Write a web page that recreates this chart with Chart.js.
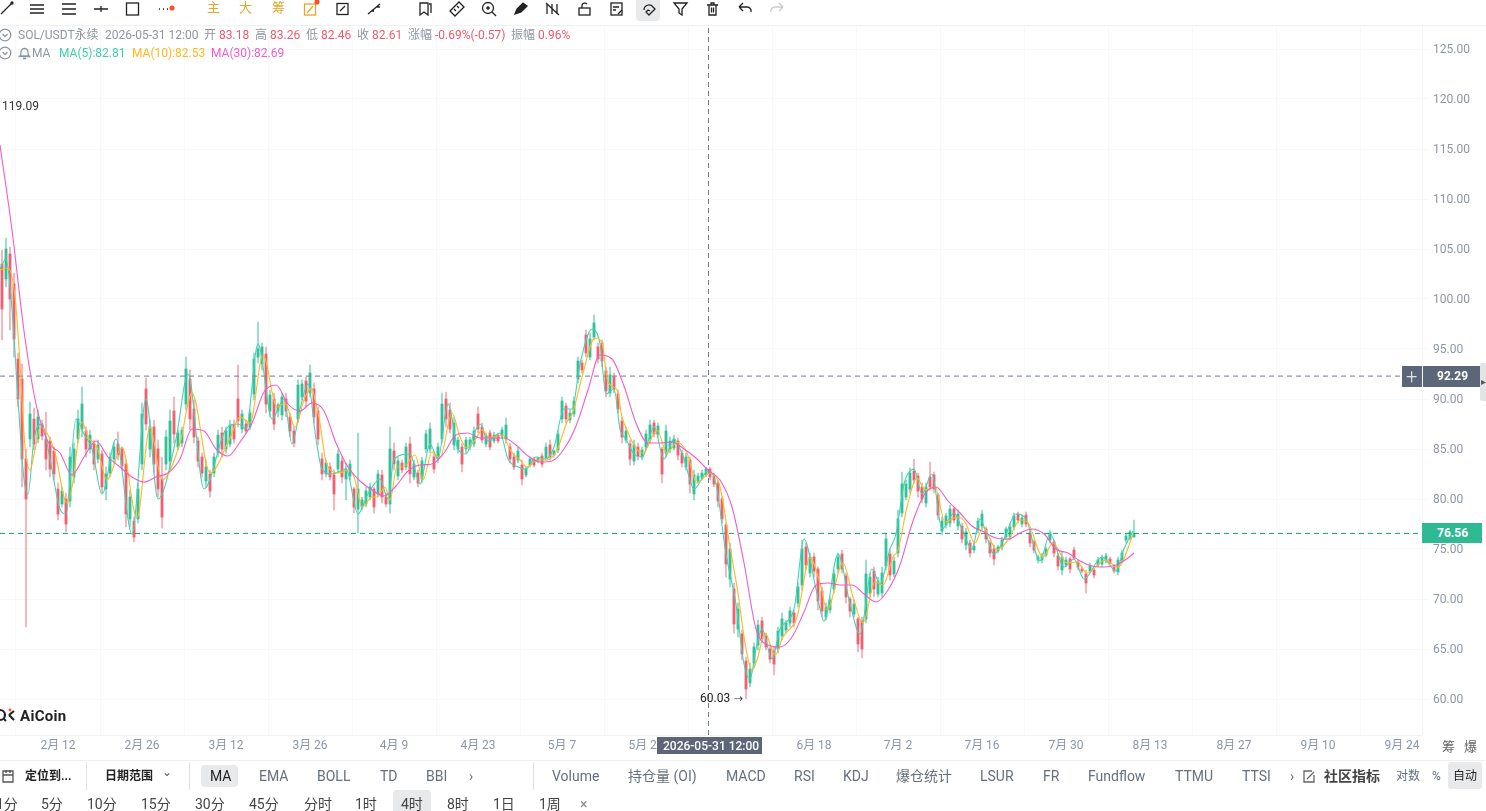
<!DOCTYPE html>
<html>
<head>
<meta charset="utf-8">
<title>SOL/USDT</title>
<script src="https://cdn.jsdelivr.net/npm/chart.js@4/dist/chart.umd.min.js"></script>
<style>
html,body{margin:0;padding:0;background:#fff;overflow:hidden;width:1486px;height:811px;font-family:Roboto,"Noto Sans CJK SC",sans-serif;}
#wrap{position:relative;width:1486px;height:811px;overflow:hidden;}
canvas{position:absolute;left:0;top:0;}
.t{position:absolute;white-space:nowrap;transform:translateY(-50%);font-size:12px;line-height:16px;}
.b{position:absolute;}
svg{position:absolute;overflow:visible;fill:none;stroke:#222;stroke-width:1.3;}
</style>
</head>
<body>
<div id="wrap"><canvas id="kline" width="1486" height="811"></canvas></div>
<script>
// every 4th 4h candle, candle number = 2 + 4 * i
var opens = [103.5,102,104.5,101.5,94,92,84,86,88,86,87.5,86,85.8,84.8,81,79.5,80,79.8,82.2,86,87,86.8,85,85.5,84,84.5,81,82.6,84,85.5,85,83.5,78,77.8,78,83.5,91,85,87.2,85,82,83.5,83.8,88.8,85.2,85.6,89.5,92,89,85.8,84.2,81.8,82.5,82.6,84.6,86.6,85,85.5,87.4,90,87,87.5,87.2,90.5,94.2,93.5,94.5,88.8,90,88.8,88.4,90,88.2,86.8,88,90.2,91.8,90.6,91,88.8,84,82.5,83.2,82.4,83,83.8,82,82.3,81,79,79.2,79.5,80.2,81,80.5,82.4,80.2,79.5,84.8,82.3,83.6,83.2,85.5,82.2,82.6,82,85,85,84.2,84,86,90,88.9,85.4,85,85.2,85,85.2,85.5,88.5,87.2,85.5,86.6,85.8,86.4,86.3,86,85.2,84.2,83.9,83.4,82.4,83.4,84,83.8,84.3,84.1,85.4,84.4,84.9,88,89.3,87.9,88.5,92,93.6,96.4,94.2,96.2,95.2,95.6,92.8,90.6,92.2,90.5,87.8,85.9,85.5,83.8,85.2,84.2,85.2,86,87.6,86.5,85,84.6,85,85.1,85.8,84.6,83.2,83.9,80.5,81.8,82.1,82.4,83,82.3,81.6,80,77.4,72,71,67,66.5,63.8,61.6,63.6,65.4,67.8,66.3,65,64.8,65,66.3,66.9,67.6,68.6,69.6,71.4,75.2,72.6,74.2,73,70.8,68.2,68.9,71,73,74.5,72.3,70,68.5,68,67.8,68,70.6,72.8,70.5,70.6,73.3,74.5,72.5,74.6,78.6,80.2,81,82.8,82.3,81.2,79.6,82.2,82.4,80.4,76.8,77.4,77.6,79,77.3,77.3,75.4,75.6,74.9,76.9,77.3,77,75.6,75,74.8,75.2,76.2,76.2,77.2,78.5,77.5,78.4,76.6,75.7,73.9,73.9,74.4,75.9,75.7,74.3,72.9,73.4,74,74.9,73.7,73,72.5,72.8,72.9,73.4,73.5,73.8,74,73.2,72.7,73.9,75.9,76.1,76.2];
var closes = [99,105,100,96,90,84,80,88.5,85.5,88.2,86.3,84,83,82.5,78.5,80.8,77.5,84.2,85,88,89.5,85,86.4,83.5,85.4,81.2,82.5,84.2,85.2,84.4,83.3,78.5,80.2,76.2,81,88.5,87.5,87.2,83.5,81,78.2,86.2,87.8,86.5,86.6,86.9,93,88,86.2,83.8,82.6,83.2,80.8,84.2,86.4,85,86.8,87.4,86,87.8,88.5,86.8,88.6,94,95,95.2,89.5,90.4,87.5,89.4,90.2,88.8,86.8,85.6,91.4,91.5,89.8,92.6,88.2,86,82.5,83.6,82.2,80.5,84.5,82.2,83,83.5,79.2,81,79.9,80.8,81.2,79.2,82.5,80.2,79.5,85,83.5,83.8,82.9,85.2,82.5,83.5,81.6,83.8,86.5,87,83,85.2,89.5,88,87,87.6,85.9,83.5,85.9,85.9,86.8,87,85.9,86.3,85.2,86.4,85.8,86.9,87.4,84,83.2,84.8,82,83,84,83.4,84.1,83.5,85.2,84.2,84.8,86.5,89.8,88,88.6,89.8,93.8,92.9,94.6,96,97.6,94,93.8,90.8,92.4,91,89,86.2,86.8,84,85.4,84.3,84.9,86.5,87.4,86.5,87.3,82.5,86.8,85.8,86,84.4,83.6,84.2,81.5,82.4,82.3,82.6,83,82.2,81.5,79.8,78,73.5,75,67.5,69,64.5,61,63,65.2,67.4,66,65.2,64,63.5,66.8,68,67.6,68.8,67.6,71.2,75,73.4,74.2,72.8,69.8,68.8,69.2,69.9,72.5,74.2,73,70.2,68.8,69.5,65.5,65,72.5,72.2,71,71.8,72.6,76,72.4,73.8,78,81.5,81.5,82.6,81.9,80.8,80,81.2,81.2,81,78.4,77.8,78.3,79,77.9,78.5,76,76.7,74.6,75.3,77.8,78.5,76,74.6,74,75.2,75.9,77,77.2,78.3,77.9,78.1,77.5,75.6,74.9,74.2,74.3,75,76.6,74.6,73.3,74.2,73.9,73,74.1,73.2,72.8,71.6,73.3,72.4,73.9,74.1,74.3,73.6,72.8,73.9,74.6,76.3,76.7,76.56];
var highs = [104.9,106.1,105.2,102.6,94.6,93.5,85,89.7,89.1,88.9,87.9,88.7,86.2,85.2,81.6,81.2,80.6,85.2,85.6,88.9,91.2,87.2,86.9,85.9,85.9,84.9,83.2,84.6,85.6,86.7,85.2,83.9,80.9,78.2,81.6,89.6,92.1,87.9,87.9,85.9,84.2,86.9,88.9,90.2,86.9,87.2,94.2,92.9,89.9,86.2,84.6,83.9,82.9,84.6,86.9,87.2,87.2,87.9,87.9,93.4,88.9,87.9,88.9,94.6,97.7,95.6,95.2,90.9,90.6,89.6,90.6,90.6,88.6,87.2,91.9,91.9,92.2,93.4,91.6,89.2,84.6,83.9,83.6,82.9,84.9,84.2,83.6,83.9,81.2,86.6,80.2,81.2,81.6,81.2,82.9,82.9,80.6,87.2,85.6,84.2,83.9,85.6,86.2,83.9,82.9,84.2,86.9,87.6,84.6,85.6,90.6,90.7,89.6,88.2,86.2,85.6,86.2,86.2,87.2,89.2,87.6,86.6,86.9,86.7,86.6,87.2,88.1,85.6,84.6,85.2,83.9,83.2,84.2,84.2,84.2,84.6,85.6,85.9,84.9,86.9,90.2,89.6,88.9,90.2,94.2,93.9,96.9,96.6,98.4,95.6,95.9,93.2,93.2,92.6,90.9,88.2,87.2,85.9,85.9,85.6,85.2,86.9,87.9,87.9,87.6,85.2,87.4,86.2,86.4,86.1,84.9,84.6,84.2,82.9,82.6,82.9,83.2,83.2,82.6,81.9,80.2,77.6,75.6,71.6,69.6,66.9,64.2,63.6,65.6,67.9,68.2,66.6,65.2,65.2,67.2,68.6,67.9,69.2,68.9,71.6,75.9,75.6,74.6,74.6,73.2,71.2,69.6,70.2,72.9,74.6,74.9,72.6,70.2,69.9,68.2,68.2,73.9,72.6,73.2,72.2,73.2,76.6,74.9,74.2,78.9,82.7,81.9,83.1,83.96,82.6,81.6,81.6,83.7,82.7,80.6,78.2,78.6,79.4,79.2,78.9,77.6,77.1,75.9,75.6,78.1,78.9,77.2,75.9,75.4,75.4,76.2,77.2,77.6,78.6,78.7,78.4,78.7,76.9,75.9,74.4,74.6,75.2,76.9,75.9,74.6,74.7,74.2,74.2,75.2,73.9,73.2,72.9,73.6,73.1,74.2,74.4,74.6,74.2,73.4,74.2,74.9,76.6,76.9,77.9];
var lows = [95.9,101.2,96.9,94.2,89.2,81.2,67.2,85.2,84.9,85.6,85.9,82.9,82.2,81.9,77.9,79.2,76.7,79.2,81.6,85.6,86.2,84.2,84.6,82.9,83.6,80.6,79.9,82.2,83.6,83.9,82.9,77.2,77.2,75.7,77.6,82.9,86.9,84.2,82.6,80.2,77.1,82.9,82.9,85.6,84.9,85.2,88.9,86.9,85.6,83.2,82.2,81.2,80.2,82.2,84.2,84.2,84.6,85.2,85.6,87.2,86.6,86.6,86.9,89.9,93.6,92.9,88.6,88.2,86.9,88.2,87.9,88.2,86.2,85.2,87.6,89.9,89.2,90.2,87.6,85.4,81.9,82.2,81.9,78.9,82.6,81.6,79.9,81.9,78.6,76.6,78.9,79.2,79.9,78.6,80.2,79.6,79.2,78.6,82.9,81.9,82.6,82.9,81.6,81.9,81.2,81.6,84.6,84.6,82.6,83.6,85.6,87.2,86.6,84.9,84.6,82.7,84.6,84.9,85.2,86.6,85.6,85.2,84.9,85.6,85.6,86.1,85.6,83.6,82.9,83.6,81.4,82.2,83.2,83.2,83.6,83.2,83.9,83.9,84.2,84.6,87.6,87.6,87.6,88.2,91.6,92.6,94.2,93.9,95.9,93.6,93.2,90.2,90.2,90.6,88.6,85.6,85.6,83.4,83.4,83.9,83.9,84.9,85.6,86.2,86.2,81.6,84.2,84.6,84.9,83.9,83.2,82.9,80.6,79.9,81.6,81.9,82.2,81.9,81.2,79.2,77.6,72.2,71.2,66.6,66.2,63.9,60.03,61.2,63.2,64.9,65.6,64.9,63.6,62.4,64.6,65.9,66.6,67.2,67.2,69.2,70.9,72.9,72.2,72.2,68.9,68.2,67.9,68.6,70.6,72.6,72.6,69.6,68.2,68.2,64.7,64.1,67.6,70.2,70.2,70.2,70.2,72.9,71.9,72.2,74.2,78.2,79.9,80.6,81.6,80.2,79.6,79.2,80.9,80.6,77.9,76.4,77.1,77.2,77.6,76.9,75.6,74.9,74.2,74.6,76.6,76.9,75.6,74.2,73.4,74.6,74.9,75.9,75.9,76.9,77.6,77.2,77.2,75.2,74.6,73.6,73.6,74.2,75.6,74.2,72.9,72.4,73.2,72.6,73.9,72.9,72.6,70.6,72.6,72.1,73.2,73.2,73.6,73.4,72.6,72.4,73.6,75.6,75.9,76.2];

var ma5At = [0,6,12,18,24,28,34,42,50,60,66,76,84,92,102,116,132,146,158,176,188,204,226,238,246,258,272,284,292,300,308,316,322,332,346,358,368,380,388,394,410,420,430,438,448,458,466,474,480,488,500,508,518,526,536,546,554,564,572,580,592,600,606,614,620,626,634,642,654,664,674,684,694,708,716,726,736,744,750,756,762,772,780,794,804,816,824,838,850,860,872,880,890,896,904,914,922,932,942,954,962,972,980,994,1004,1016,1026,1040,1050,1064,1074,1084,1102,1116,1124,1133];
var ma5 = [103,104,99,90,82,80.5,86,87.5,84,79,78.5,88,86.5,85,80.5,86,76.5,90,80,86,92.5,81,87,87.5,87,95.5,88,90,85.5,89,91.5,86,83,82.5,83,78.5,80.5,82,80,84,84.5,81.5,85.5,84,89.5,85,84.5,86.5,87.5,85.8,86.6,84,83.2,83,84.2,84,85.2,89,89,93.5,97,95.5,90.5,91,87,86,84.5,84.2,87.2,84,86,84,81,82.8,81.5,74.5,69.5,63.5,62,65,67,64,67,69,76,71,67.8,74.5,69.5,66.5,73,71.5,75,76.5,81.5,83,80.5,82.5,77,78.6,77,75,78,74.5,76,78.5,78,73.8,76.5,73.2,74,72,74.2,72.8,75,76.8];
var ma10At = [0,8,15,20,25,30,35,40,47,55,67,72,82,88,97,107,122,137,150,162,180,192,210,230,240,250,263,277,285,295,305,312,315,320,325,333,338,350,355,362,372,377,385,390,397,403,415,423,432,440,452,460,467,475,482,490,503,510,520,527,537,547,557,567,573,582,595,602,608,617,622,627,635,643,657,667,677,687,697,710,720,730,738,745,752,757,765,775,783,797,810,820,827,843,853,863,875,883,893,898,907,917,925,935,945,957,965,975,983,997,1008,1020,1028,1043,1053,1067,1077,1087,1105,1118,1133];
var ma10 = [102.9,103.1,100.2,93.6,85.2,82.9,84.9,87.2,86.6,84.6,79.6,81.2,87.7,86.2,85.2,81.9,85.2,78.1,87.2,81.9,85.6,90.6,82.6,86.1,88.2,87.6,94.4,89.2,89.6,87.2,90.2,91.1,89.9,87.6,84.2,82.7,82.6,82.9,81.9,79.2,80.2,80.2,81.2,79.9,83.2,83.2,84.4,81.9,84.7,84.1,88.6,86.2,85.1,85.9,86.9,86.1,86.4,84.9,83.9,83.2,83.9,83.9,84.9,87.7,88.7,92.2,96.1,95.6,91.7,90.9,88.2,86.9,85.2,84.6,86.9,84.6,85.7,84.6,81.6,82.6,81.2,75.2,70.6,65.6,62.9,63.9,66.6,64.4,66.2,68.2,74.1,71.6,68.9,73.6,70.2,67.6,71.7,71.4,74.2,74.9,79.2,82.1,80.9,81.2,77.7,78.2,77.7,75.6,77.2,74.9,75.9,77.9,77.6,74.2,75.6,73.6,73.7,72.6,73.9,73.2,76.4];
var ma30At = [0,12,24,36,48,60,72,84,96,108,120,132,144,156,168,180,192,204,216,228,240,252,264,276,288,300,312,324,336,348,360,372,384,396,408,420,432,444,456,468,480,492,504,516,528,540,552,564,576,588,600,612,624,636,648,660,672,684,696,708,720,732,744,756,768,780,792,804,816,828,840,852,864,876,888,900,912,924,936,948,960,972,984,996,1008,1020,1032,1044,1056,1068,1080,1092,1104,1116,1128,1134];
var ma30 = [115.4,106.9,96.8,89.5,85.7,84.6,82.4,84.2,85.8,84.2,83.2,82.2,81.7,82.2,82.6,84,87,86.8,85,84.3,85.7,87.6,90.7,91.4,89.5,88.8,89.6,88.8,85.6,83.2,81.8,80.9,80.3,81.3,82.8,83.4,83.5,84.6,86.4,86.6,86.1,86.1,86.1,85.4,84.3,83.7,83.8,85,87.3,90.9,94.4,94,91.3,87.6,85.6,85.6,85.7,85,84.1,82.9,81.9,79.2,73.6,67,65.4,65.2,66.2,68.7,71.4,71.6,71.4,71.4,70.5,69.7,70.9,73.4,77.5,80.4,81.2,79.8,78.6,77.3,76.7,76.1,76,76.6,77,76.5,75,74.6,73.8,73.3,73.2,73.4,74.1,74.6];

var dateLabels = ['2月 12','2月 26','3月 12','3月 26','4月 9','4月 23','5月 7','5月 21','6月 4','6月 18','7月 2','7月 16','7月 30','8月 13','8月 27','9月 10','9月 24'];
var dateCandles = [58,142,226,310,394,478,562,646,730,814,898,982,1066,1150,1234,1318,1402];
var crossPrice = 92.29;
var lastPrice = 76.56;
var crossCandle = 708.5;

var upColor = '#35bf9b', downColor = '#f0606f';
var candleNo = opens.map(function(v, i){ return 2 + 4 * i; });

function pts(at, vals){
    return vals.map(function(v, i){ return {x: at[i], y: v}; });
}
function lineSet(at, vals, color, order){
    return {type:'line', data:pts(at, vals), borderColor:color, borderWidth:1.1, pointRadius:0,
        cubicInterpolationMode:'monotone', order:order};
}
function dashSet(data, color, order){
    return {type:'line', data:data, borderColor:color, borderWidth:1, borderDash:[5,4], pointRadius:0, order:order};
}
var barColors = opens.map(function(v, i){ return closes[i] >= v ? upColor : downColor; });
var wickColors = opens.map(function(v, i){ return closes[i] >= v ? 'rgba(47,191,153,0.6)' : 'rgba(240,90,107,0.55)'; });

var yMin = 56.4, yMax = 127.4;

new Chart(document.getElementById('kline'), {
    data: {
        datasets: [
            {type:'bar', data:candleNo.map(function(x, i){ return {x:x, y:[lows[i], highs[i]]}; }),
                backgroundColor:wickColors, barThickness:1, grouped:false, order:7},
            {type:'bar', data:candleNo.map(function(x, i){ return {x:x, y:[opens[i], closes[i]]}; }),
                backgroundColor:barColors, barThickness:2.2, grouped:false, order:6},
            lineSet(ma5At, ma5, '#45d3b0', 3),
            lineSet(ma10At, ma10, '#ffb81f', 2),
            lineSet(ma30At, ma30, '#f25cc8', 1),
            dashSet([{x:0, y:crossPrice},{x:1402, y:crossPrice}], '#6f7b8e', 5),
            dashSet([{x:0, y:lastPrice},{x:1422, y:lastPrice}], '#159c76', 5),
            dashSet([{x:crossCandle, y:yMin},{x:crossCandle, y:yMax}], '#6f7b8e', 5)
        ]
    },
    options: {
        responsive:false,
        animation:false,
        events:[],
        layout:{padding:{top:25, left:0, right:0, bottom:0}},
        plugins:{legend:{display:false}, tooltip:{enabled:false}},
        scales:{
            x:{
                type:'linear', min:0, max:1422, offset:false,
                afterBuildTicks:function(s){ s.ticks = dateCandles.map(function(v){ return {value:v}; }); },
                afterFit:function(s){ s.height = 76; },
                grid:{color:'#f7f8fa', drawTicks:false},
                border:{color:'#f1f2f4'},
                ticks:{autoSkip:false, maxRotation:0, padding:4, color:'#8d96a6',
                    font:{family:'Roboto, "Noto Sans CJK SC"', size:12},
                    callback:function(v){ return dateLabels[dateCandles.indexOf(v)]; }}
            },
            y:{
                position:'right', min:yMin, max:yMax,
                afterFit:function(s){ s.width = 64; },
                grid:{color:'#f7f8fa', tickLength:6},
                border:{color:'#f5f6f8'},
                ticks:{stepSize:5, includeBounds:false, padding:5, labelOffset:1, color:'#8d96a6',
                    font:{family:'Roboto', size:12},
                    callback:function(v){ return v.toFixed(2); }}
            }
        }
    }
});

// page furniture round the chart
var wrap = document.getElementById('wrap');
function t(text, x, y, color, extra){
    var e = document.createElement('div');
    e.className = 't';
    e.textContent = text;
    e.style.left = x + 'px';
    e.style.top = y + 'px';
    e.style.color = color || '#8d96a6';
    if (extra) e.style.cssText += extra;
    wrap.appendChild(e);
    return e;
}
function box(x, y, w, h, bg, extra){
    var e = document.createElement('div');
    e.className = 'b';
    e.style.cssText = 'left:'+x+'px;top:'+y+'px;width:'+w+'px;height:'+h+'px;background:'+bg+';'+(extra||'');
    wrap.appendChild(e);
}
function icon(x, y, body, stroke){
    var s = '<svg style="left:'+x+'px;top:'+y+'px;'+(stroke?'stroke:'+stroke+';':'')+'" width="16" height="16" viewBox="0 0 16 16">'+body+'</svg>';
    wrap.insertAdjacentHTML('beforeend', s);
}

// top toolbar
box(0, 25, 1486, 1, '#f0f1f3');
box(636, 0, 24, 21, '#e8e9eb', 'border-radius:0 0 4px 4px;');
icon(0, 1, '<path d="M1 13L12 2"/><circle cx="12" cy="2" r="1"/>');
icon(29, 1, '<path d="M1 4h14M1 8h14M1 12h14"/>');
icon(61, 1, '<path d="M1 3h14M1 8h14M1 13h14"/>');
icon(93, 1, '<path d="M1 8h14M8 5v6"/>');
icon(125, 1, '<rect x="1.5" y="2" width="12" height="12"/>');
icon(158, 1, '<path d="M1 8h1M5 8h1M9 8h1"/><circle cx="14" cy="7" r="2.6" fill="#f5532a" stroke="none"/>');
t('主', 207, 8, '#dfa92b', 'font-size:13px;');
t('大', 239, 8, '#dfa92b', 'font-size:13px;');
t('筹', 272, 8, '#dfa92b', 'font-size:13px;');
icon(303, 1, '<rect x="1.5" y="3" width="11" height="11" stroke="#dfa92b"/><path d="M4 12L10 5" stroke="#dfa92b"/><circle cx="14" cy="1" r="2.6" fill="#f5532a" stroke="none"/>');
icon(335, 1, '<rect x="2" y="2.5" width="11" height="11"/><path d="M5 10L10 5"/>');
icon(367, 1, '<path d="M1 13L13 3M4 10h3M10 6h3"/>');
icon(417, 1, '<path d="M3 2h8v12l-4-3-4 3zM12 3h2v9"/>');
icon(449, 1, '<path d="M1 10L10 1l5 5-9 9zM5 8l2 2M8 5l2 2"/>');
icon(481, 1, '<circle cx="7" cy="7" r="5.5"/><path d="M11 11l4 4M5 7h4M7 5v4"/>');
icon(513, 1, '<path d="M2 13l2-5 6-6 4 3-6 6z" fill="#222"/>');
icon(545, 1, '<path d="M2 3v10M7 3v10M12 3v10M1 2l13 12"/>');
icon(577, 1, '<rect x="2" y="7" width="11" height="7"/><path d="M5 7V4a3 3 0 0 1 5-1"/>');
icon(609, 1, '<rect x="2" y="2" width="11" height="12"/><path d="M4 6h6M4 9h3M9 13l4-4"/>');
icon(641, 2, '<path d="M3 8a5 5 0 0 1 9-3l2 2-6 6-3-3 2-2 2 1"/>');
icon(673, 1, '<path d="M1 2h13L9 8v6l-3-2V8z"/>');
icon(705, 1, '<path d="M2 4h11M6 4V2h3v2M4 4v10h7V4M6.5 6.5v5M8.5 6.5v5"/>');
icon(737, 1, '<path d="M2 6h8a4 4 0 0 1 4 5M2 6l4-4M2 6l4 4"/>');
icon(769, 1, '<path d="M14 6H6a4 4 0 0 0-4 5M14 6l-4-4M14 6l-4 4"/>', '#c8cad0');

// header lines
var red = '#ef5a6b';
icon(-2, 28, '<circle cx="7" cy="7" r="5.8"/><path d="M4.5 6l2.5 2.5L9.5 6"/>', '#8d96a6');
t('SOL/USDT永续', 18, 35);
t('2026-05-31 12:00', 105, 35);
t('开', 204, 35); t('83.18', 219, 35, red);
t('高', 255, 35); t('83.26', 270, 35, red);
t('低', 306, 35); t('82.46', 321, 35, red);
t('收', 357, 35); t('82.61', 372, 35, red);
t('涨幅', 408, 35); t('-0.69%(-0.57)', 435, 35, red);
t('振幅', 511, 35); t('0.96%', 538, 35, red);
icon(-2, 46, '<circle cx="7" cy="7" r="5.8"/><path d="M4.5 6l2.5 2.5L9.5 6"/>', '#8d96a6');
icon(17, 46, '<path d="M3 10c1-1 1-3 1-4a3.5 3.5 0 0 1 7 0c0 1 0 3 1 4zM1.5 10.5h12M6 12.5h3"/>', '#8d96a6');
t('MA', 32, 53);
t('MA(5):82.81', 59, 53, '#3ecfad');
t('MA(10):82.53', 132, 53, '#ffb81f');
t('MA(30):82.69', 211, 53, '#f25cc8');

// marks on the plot
t('119.09', 2, 106, '#333');
t('60.03', 700, 698, '#222');
t('\u2192', 734, 699, '#222', 'font-size:9px;');
wrap.insertAdjacentHTML('beforeend', '<svg style="left:-2px;top:707px;stroke:#222;stroke-width:2.2" width="20" height="16"><circle cx="2" cy="8" r="5"/><path d="M6 12l2 2M11 8l5-4M11 8l5 5" /><circle cx="12" cy="3" r="1.4" fill="#f5532a" stroke="none"/></svg>');
t('AiCoin', 20, 716, '#222', 'font-size:15px;font-weight:700;letter-spacing:.3px;');

// price flags
box(1402, 366, 20, 21, '#5b6779');
t('+', 1406, 376, '#dfe3e8', 'font-size:20px;font-weight:300;');
box(1423, 366, 57, 21, '#5b6779');
t('92.29', 1437, 376, '#fff', 'font-weight:700;');
box(1480, 363, 6, 38, '#e3e4e6', 'border-radius:2px 0 0 2px;');
t('\u25b8', 1481, 382, '#555', 'font-size:10px;');
box(1422, 523, 60, 20, '#2fba94');
t('76.56', 1437, 533, '#fff', 'font-weight:700;');

// crosshair date and the two side tabs
box(657, 737, 105, 17, '#5b6779');
t('2026-05-31 12:00', 663, 745.5, '#fff', 'font-weight:500;');
t('筹', 1442, 747, '#666', 'font-size:13px;');
t('爆', 1464, 747, '#666', 'font-size:13px;');

// indicator bar
box(0, 760, 1486, 1, '#eef0f2');
box(86, 762, 1, 28, '#e2e4e7');
box(189, 762, 1, 28, '#e2e4e7');
box(533, 762, 1, 28, '#e2e4e7');
box(201, 765, 37, 22, '#e8e9eb', 'border-radius:4px;');
box(1448, 762, 34, 27, '#e8e9eb', 'border-radius:3px;');
box(393, 790, 38, 21, '#e8e9eb', 'border-radius:4px 4px 0 0;');
icon(2, 769, '<path d="M1 2h10v11H1zM1 6h10M4 1v3M8 1v3"/>', '#555');
var ink = '#666f7c', dark = '#222';
t('定位到...', 25, 776, dark, 'font-weight:700;');
t('日期范围', 105, 776, dark, 'font-weight:700;');
t('\u2304', 162, 772, '#555');
t('MA', 210, 776, dark, 'font-size:14px;');
var bar1 = [['EMA',259],['BOLL',317],['TD',380],['BBI',426],['\u203a',469],['Volume',552],['持仓量 (OI)',628],['MACD',726],['RSI',794],['KDJ',843],['爆仓统计',896],['LSUR',980],['FR',1043],['Fundflow',1088],['TTMU',1175],['TTSI',1242],['\u203a',1290]];
bar1.forEach(function(b){ t(b[0], b[1], 776, ink, 'font-size:14px;'); });
icon(1302, 769, '<path d="M10 2H2v11h10V6M5 10l7-7"/>', '#666');
t('社区指标', 1324, 776, '#444', 'font-weight:700;font-size:14px;');
t('对数', 1396, 776, ink);
t('%', 1432, 776, ink);
t('自动', 1453, 776, dark);

var bar2 = [['1分',-4],['5分',41],['10分',87],['15分',141],['30分',195],['45分',249],['分时',304],['1时',355],['4时',401],['8时',447],['1日',493],['1周',539],['\u00d7',580]];
bar2.forEach(function(b){ t(b[0], b[1], 804, b[0] == '\u00d7' ? '#888' : '#444', 'font-size:14px;'); });
</script>
</body>
</html>
